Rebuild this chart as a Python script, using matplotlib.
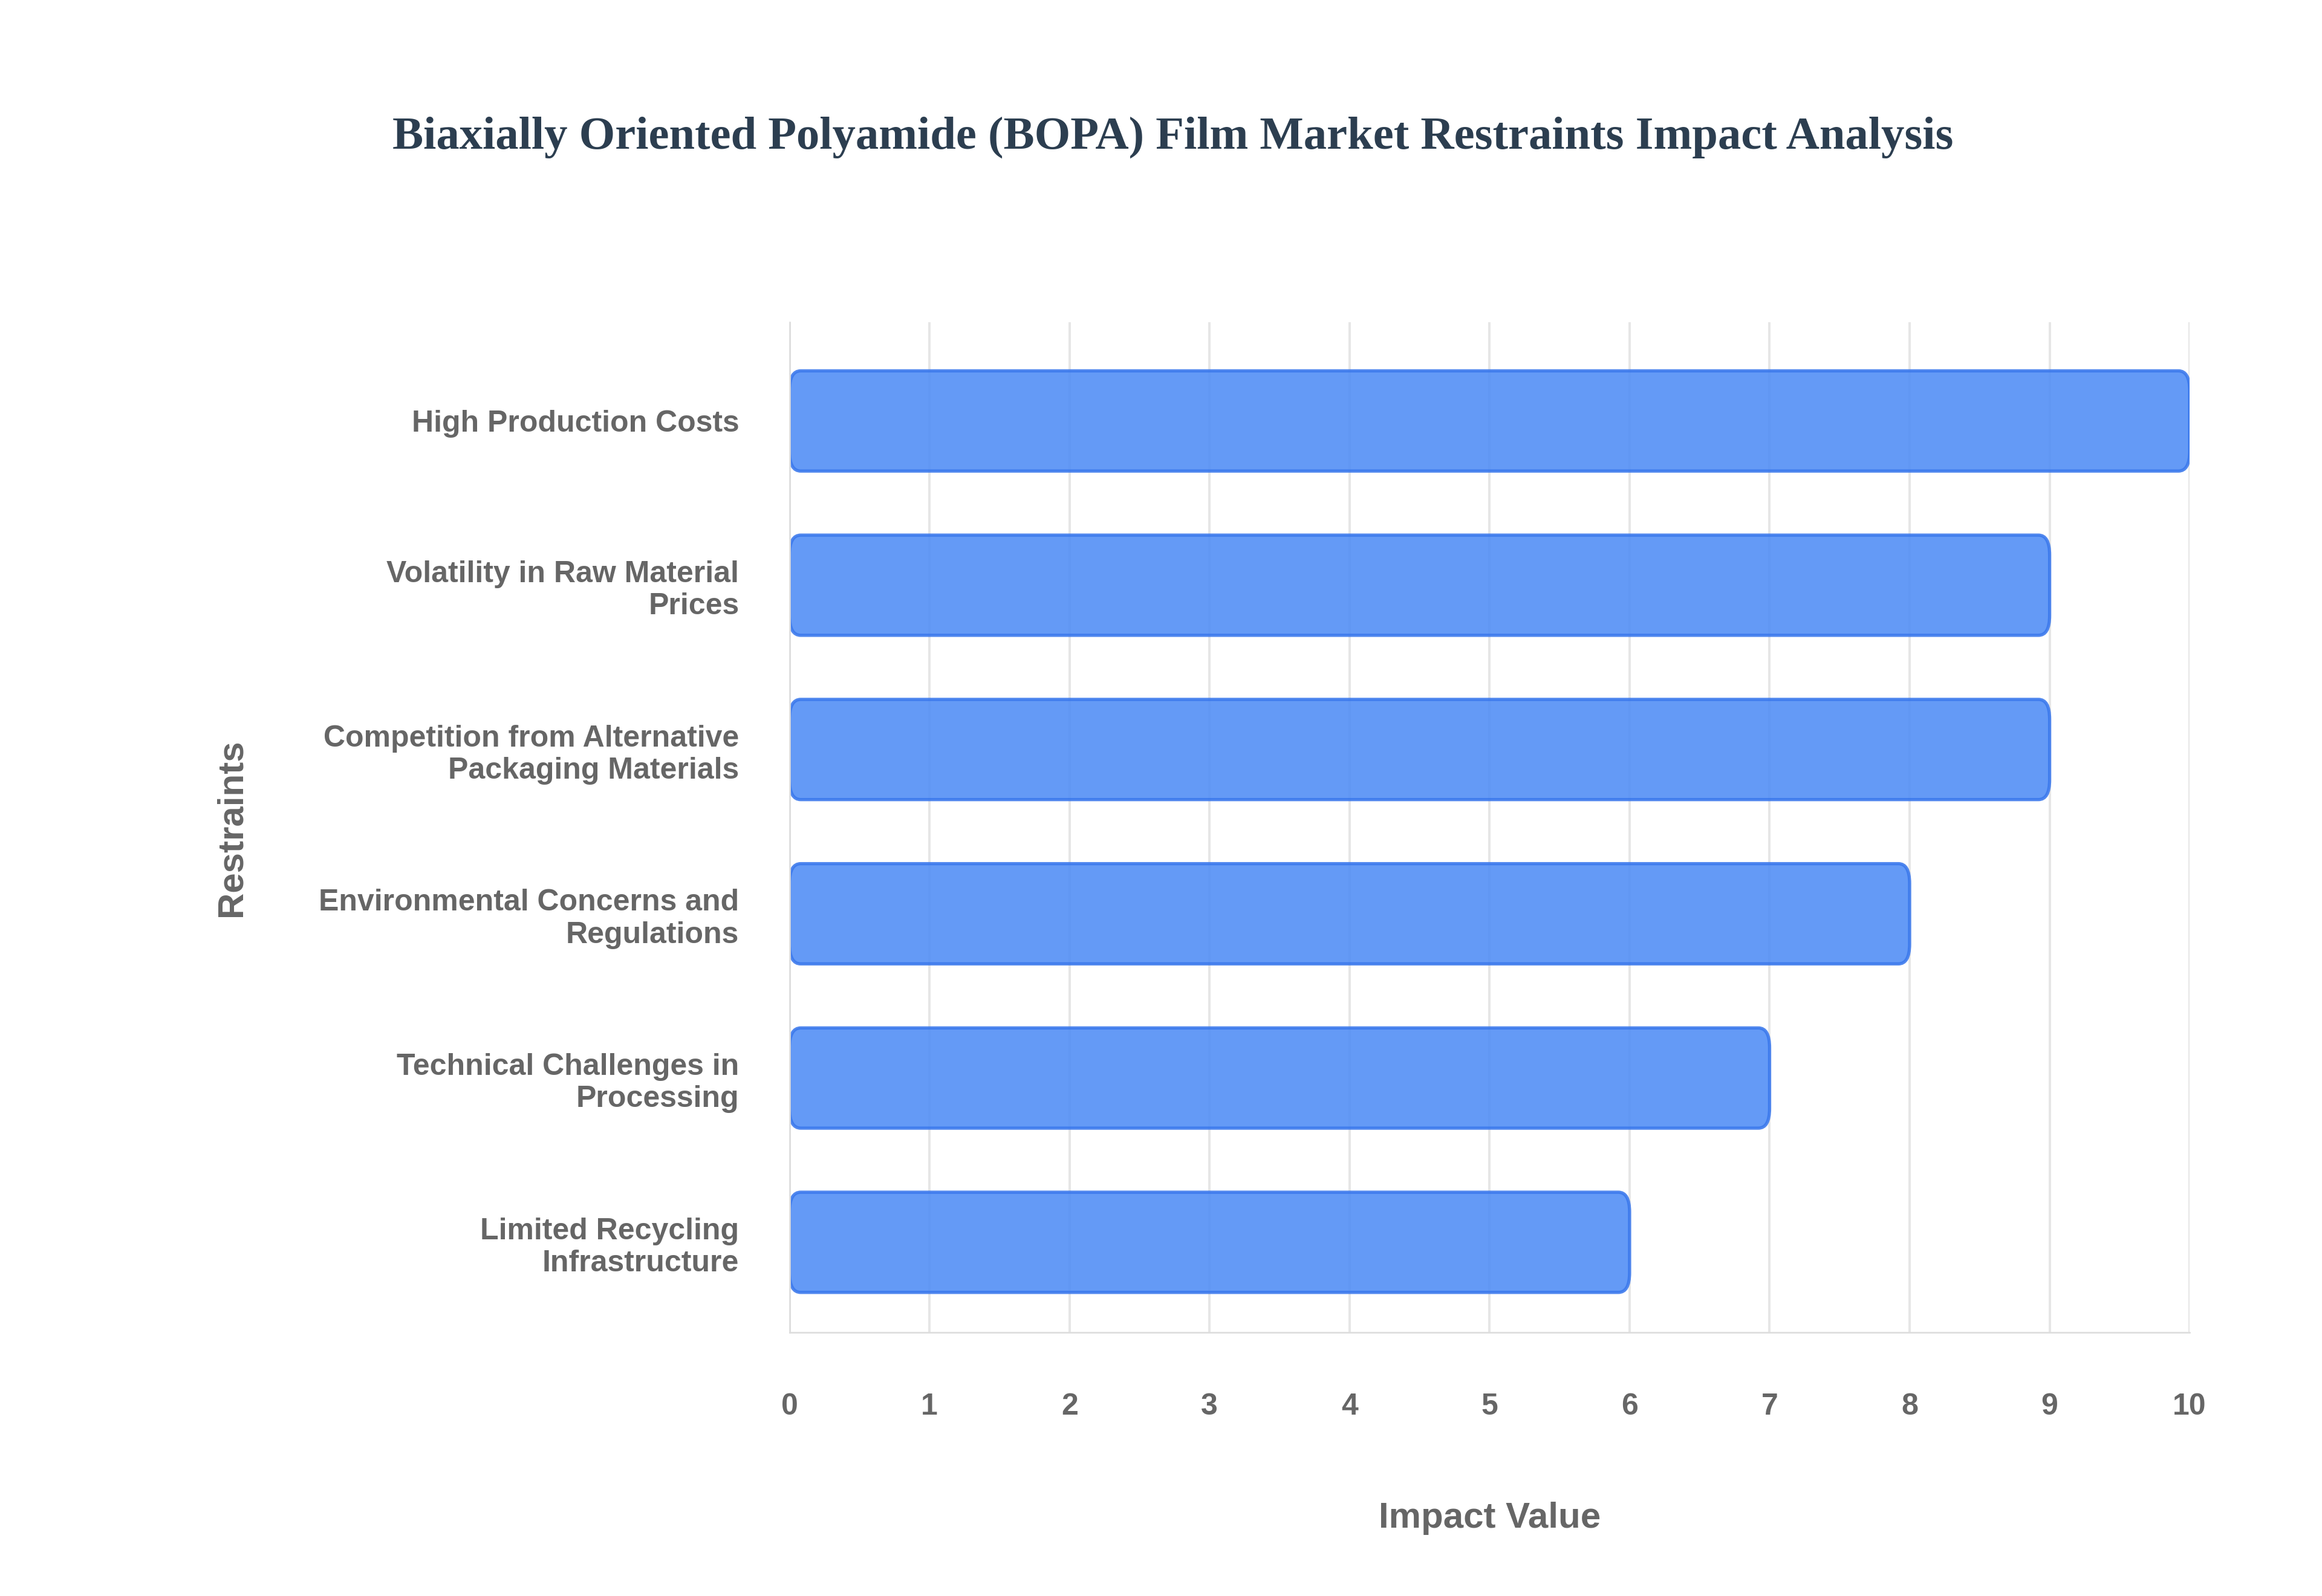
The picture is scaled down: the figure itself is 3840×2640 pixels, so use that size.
import matplotlib
matplotlib.use("Agg")
import matplotlib.pyplot as plt
from matplotlib.patches import FancyBboxPatch

categories = ["High Production Costs", "Volatility in Raw Material\nPrices",
              "Competition from Alternative\nPackaging Materials",
              "Environmental Concerns and\nRegulations",
              "Technical Challenges in\nProcessing",
              "Limited Recycling\nInfrastructure"]
values = [10, 9, 9, 8, 7, 6]
xticks = list(range(0, 11))

fig = plt.figure(figsize=(16, 11), dpi=240)
ax = fig.add_axes([0.340, 0.165, 0.603, 0.633])
ys = list(range(len(categories)))[::-1]
h = 0.61
for y, v in zip(ys, values):
    p = FancyBboxPatch((0, y - h/2), v, h, boxstyle="round,pad=0,rounding_size=0.08",
                       facecolor="#4f8cf5", alpha=0.88, edgecolor="#3a78ec", linewidth=1.6,
                       mutation_aspect=1.5)
    ax.add_patch(p)
ax.set_xlim(0, 10)
ax.set_ylim(-0.55, 5.6)
ax.set_yticks(ys)
ax.set_yticklabels(categories, fontfamily="Liberation Sans", fontweight="bold",
                   fontsize=15, color="#666666")
ax.set_xticks(xticks)
ax.set_xticklabels([str(t) for t in xticks], fontfamily="Liberation Sans",
                   fontweight="bold", fontsize=15, color="#666666")
ax.tick_params(axis="y", length=0, pad=25)
ax.tick_params(axis="x", length=0, pad=30)
ax.grid(axis="x", color="#e6e6e6", linewidth=1.2)
ax.set_axisbelow(True)
for s in ["top", "right"]:
    ax.spines[s].set_visible(False)
ax.spines["left"].set_color("#dddddd")
ax.spines["bottom"].set_color("#dddddd")
ax.set_xlabel("Impact Value", fontfamily="Liberation Sans", fontweight="bold",
              fontsize=18, color="#666666", labelpad=40)
ax.set_ylabel("Restraints", fontfamily="Liberation Sans", fontweight="bold",
              fontsize=18, color="#666666", labelpad=35)
fig.text(0.505, 0.914, "Biaxially Oriented Polyamide (BOPA) Film Market Restraints Impact Analysis",
         ha="center", va="center", fontfamily="Liberation Serif", fontweight="bold",
         fontsize=23, color="#2c3e50")
fig.savefig("out.png", dpi=240, facecolor="white")
